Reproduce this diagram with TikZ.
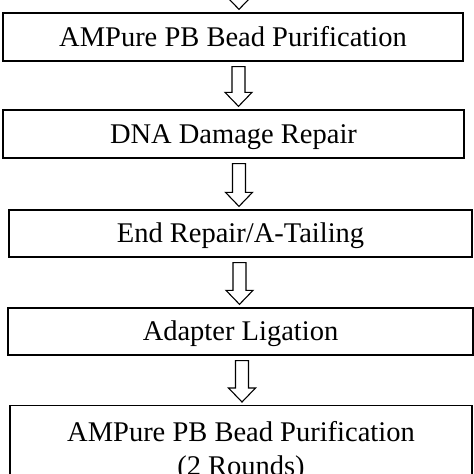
\documentclass[tikz,border=0pt]{standalone}
\usepackage{fontspec}
\setmainfont{Liberation Serif}
\usepackage{tikz}
\usetikzlibrary{calc}

\tikzset{
	stepbox/.style={draw,line width=1.3pt,inner sep=0pt,minimum height=48pt,
		text height=18.8pt,text depth=0pt,align=center,
		font=\fontsize{28.5}{34}\selectfont},
	blockarrow/.style={draw,line width=1.1pt,line join=miter,fill=white}
}

% hollow block arrow: from, to, x of its axis
\newcommand{\flowarrow}[3]{%
	\coordinate (as) at ($(#3,0 |- #1)+(0,5)$);
	\coordinate (at) at ($(#3,0 |- #2)+(0,-3)$);
	\draw [blockarrow] ($(as)+(-6.5,0)$) -- ($(at)+(-6.5,-14)$) -- ($(at)+(-13.5,-14)$)
		-- (at) -- ($(at)+(13.5,-14)$) -- ($(at)+(6.5,-14)$) -- ($(as)+(6.5,0)$) -- cycle;
}

\begin{document}
\begin{tikzpicture}[x=1pt,y=-1pt]
		\useasboundingbox (0,0) rectangle (474,474);
		\clip (0,0) rectangle (474,474);
		\node [stepbox,minimum width=460pt] (b1) at (233,37) {AMPure PB Bead Purification};
		\node [stepbox,minimum width=461pt] (b2) at (233.5,134) {DNA Damage Repair};
		\node [stepbox,minimum width=463pt,minimum height=47pt] (b3) at (240.5,233.5) {End Repair/A-Tailing};
		\node [stepbox,minimum width=465pt,minimum height=47pt] (b4) at (240.5,331.5) {Adapter Ligation};
		\node [stepbox,minimum width=462pt,anchor=north,text height=52.8pt,text depth=20pt,inner ysep=17pt] (b5) at (241,405) {AMPure PB Bead Purification\\(2 Rounds)};
		\coordinate (top) at (239,-40);
		\flowarrow{top}{b1.north}{239}
		\flowarrow{b1.south}{b2.north}{238.5}
		\flowarrow{b2.south}{b3.north}{239}
		\flowarrow{b3.south}{b4.north}{239.5}
		\flowarrow{b4.south}{b5.north}{242}
	\end{tikzpicture}
\end{document}
